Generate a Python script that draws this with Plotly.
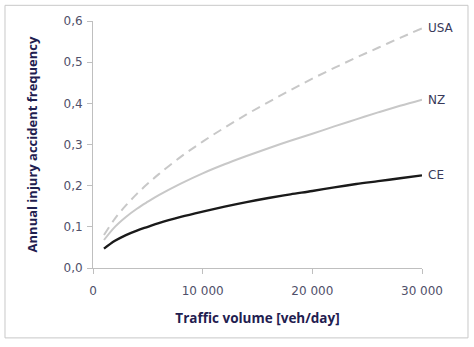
import plotly.graph_objects as go

traffic = [1000, 2000, 3000, 4000, 5000, 6000, 8000, 10000, 12000, 14000, 16000,
           18000, 20000, 22000, 24000, 26000, 28000, 30000]
usa = [0.080, 0.120, 0.152, 0.180, 0.205, 0.228, 0.270, 0.307, 0.341, 0.373, 0.403,
       0.432, 0.460, 0.486, 0.511, 0.535, 0.559, 0.582]
nz = [0.068, 0.100, 0.124, 0.144, 0.161, 0.177, 0.205, 0.230, 0.252, 0.272, 0.291,
      0.309, 0.326, 0.344, 0.361, 0.378, 0.394, 0.409]
ce = [0.047, 0.066, 0.080, 0.091, 0.100, 0.109, 0.124, 0.137, 0.149, 0.160, 0.170,
      0.179, 0.187, 0.196, 0.204, 0.211, 0.218, 0.225]
series_names = ["USA", "NZ", "CE"]
x_ticks = [0, 10000, 20000, 30000]
x_ticktext = ["0", "10 000", "20 000", "30 000"]
y_ticks = [0, 0.1, 0.2, 0.3, 0.4, 0.5, 0.6]

fig = go.Figure()
styles = {
    "USA": dict(color="#C8C8C8", width=2, dash="9px,6px"),
    "NZ": dict(color="#C8C8C8", width=2),
    "CE": dict(color="#1A1A1A", width=2.4),
}
data = {"USA": usa, "NZ": nz, "CE": ce}
for name in series_names:
    fig.add_trace(go.Scatter(x=traffic, y=data[name], mode="lines", name=name,
                             line=dict(shape="spline", **styles[name])))
    fig.add_annotation(x=traffic[-1], y=data[name][-1], text=name, showarrow=False,
                       xanchor="left", xshift=4,
                       font=dict(family="DejaVu Sans", size=12, color="#3A3A5A"))

axis_common = dict(showgrid=False, zeroline=False, showline=True, linecolor="#BFBFBF",
                   linewidth=1, ticks="outside", ticklen=5, tickcolor="#BFBFBF",
                   tickfont=dict(family="DejaVu Sans", size=12, color="#50506A"))
fig.update_layout(
    width=474, height=347,
    margin=dict(l=93, r=52, t=21, b=79),
    paper_bgcolor="white", plot_bgcolor="white",
    showlegend=False,
    separators=", ",
    xaxis=dict(range=[0, 30000], tickvals=x_ticks, ticktext=x_ticktext,
               ticklabelstandoff=7,
               title=dict(text="Traffic volume [veh/day]", standoff=16,
                          font=dict(family="Open Sans", size=13.5, color="#1F2050", weight="bold")),
               **axis_common),
    yaxis=dict(range=[0, 0.6], tickvals=y_ticks, tickformat=".1f",
               ticklabelstandoff=2,
               title=dict(text="Annual injury accident frequency", standoff=22,
                          font=dict(family="Open Sans", size=13, color="#1F2050", weight="bold")),
               **axis_common),
)
fig.add_shape(type="rect", xref="paper", yref="paper",
              x0=-0.2675, x1=1.1398, y0=-0.283, y1=1.0635,
              line=dict(color="#C8C8C8", width=1))
fig.write_html("out.html")
